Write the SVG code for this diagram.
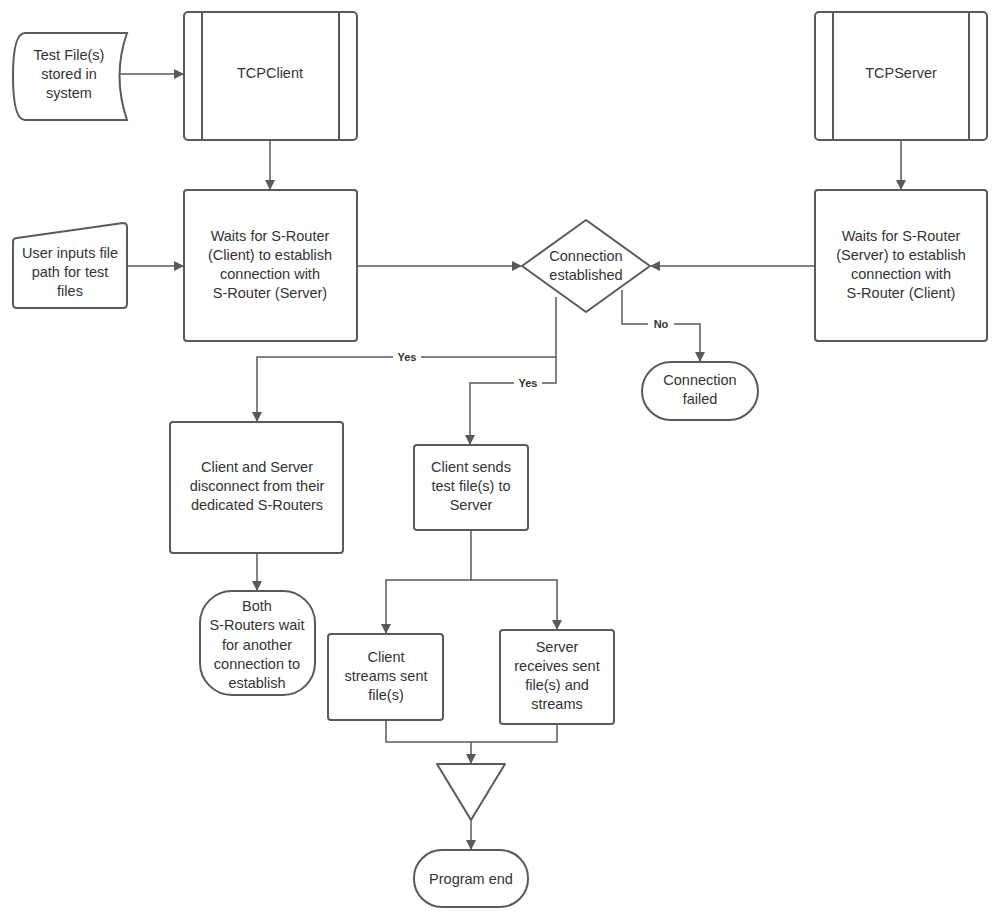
<svg xmlns="http://www.w3.org/2000/svg" width="1001" height="916" viewBox="0 0 1001 916">
<style>
.s{fill:#fff;stroke:#5a5a5a;stroke-width:2}
.c{fill:none;stroke:#5a5a5a;stroke-width:1.5}
text{font-family:"Liberation Sans",Arial,sans-serif;font-size:14.5px;fill:#333;text-anchor:middle}
.l{font-size:11px;font-weight:bold}
</style>
<defs><marker id="a" markerWidth="10" markerHeight="10" refX="9" refY="5" orient="auto" markerUnits="userSpaceOnUse"><path d="M0,0L10,5L0,10z" fill="#5a5a5a"/></marker></defs>
<rect width="1001" height="916" fill="#fff"/>
<g id="connectors">
<path class="c" d="M117,74H183" marker-end="url(#a)"/>
<path class="c" d="M270,140V189" marker-end="url(#a)"/>
<path class="c" d="M127,266H183" marker-end="url(#a)"/>
<path class="c" d="M357,266H521" marker-end="url(#a)"/>
<path class="c" d="M901,140V189" marker-end="url(#a)"/>
<path class="c" d="M815,266H651" marker-end="url(#a)"/>
<path class="c" d="M622,290V324H700V361" marker-end="url(#a)"/>
<path class="c" d="M556,297V357H257V421" marker-end="url(#a)"/>
<path class="c" d="M556,357V383H470V444" marker-end="url(#a)"/>
<path class="c" d="M257,553V590" marker-end="url(#a)"/>
<path class="c" d="M471,530V580H386V633" marker-end="url(#a)"/>
<path class="c" d="M471,580H557V629" marker-end="url(#a)"/>
<path class="c" d="M386,720V742H471M557,724V742H471V763" marker-end="url(#a)"/>
<path class="c" d="M471,820V849" marker-end="url(#a)"/>
<rect x="648" y="318" width="26" height="12" fill="#fff"/><text class="l" x="661" y="328">No</text>
<rect x="393" y="351" width="28" height="12" fill="#fff"/><text class="l" x="407" y="361">Yes</text>
<rect x="514" y="377" width="28" height="12" fill="#fff"/><text class="l" x="528" y="387">Yes</text>
</g>
<g id="testfiles"><path class="s" d="M25,33H127Q112,76 127,120H25Q13,120 13,76Q13,33 25,33z"/>
<text x="69" y="60">Test File(s)</text><text x="69" y="79">stored in</text><text x="69" y="98">system</text></g>
<g id="tcpclient"><rect class="s" x="184" y="12" width="173" height="128" rx="4"/><path class="c" d="M202,12V140M339,12V140" style="stroke-width:2"/>
<text x="270" y="78">TCPClient</text></g>
<g id="userinputs"><path class="s" d="M17,238L123,223Q127,223 127,227V304Q127,308 123,308H17Q13,308 13,304V242Q13,238 17,238z"/>
<text x="70" y="258">User inputs file</text><text x="70" y="277">path for test</text><text x="70" y="296">files</text></g>
<g id="waitsclient"><rect class="s" x="184" y="190" width="173" height="151" rx="3"/>
<text x="270" y="241">Waits for S-Router</text><text x="270" y="260">(Client) to establish</text><text x="270" y="279">connection with</text><text x="270" y="298">S-Router (Server)</text></g>
<g id="decision"><path class="s" d="M586,220L650,266L586,312L522,266z" stroke-linejoin="round"/>
<text x="586" y="261">Connection</text><text x="586" y="280">established</text></g>
<g id="tcpserver"><rect class="s" x="815" y="12" width="172" height="128" rx="4"/><path class="c" d="M833,12V140M969,12V140" style="stroke-width:2"/>
<text x="901" y="78">TCPServer</text></g>
<g id="waitsserver"><rect class="s" x="815" y="190" width="172" height="151" rx="3"/>
<text x="901" y="241">Waits for S-Router</text><text x="901" y="260">(Server) to establish</text><text x="901" y="279">connection with</text><text x="901" y="298">S-Router (Client)</text></g>
<g id="failed"><rect class="s" x="642" y="362" width="116" height="58" rx="29"/>
<text x="700" y="385">Connection</text><text x="700" y="404">failed</text></g>
<g id="disconnect"><rect class="s" x="170" y="422" width="173" height="131" rx="3"/>
<text x="257" y="472">Client and Server</text><text x="257" y="491">disconnect from their</text><text x="257" y="510">dedicated S-Routers</text></g>
<g id="bothwait"><rect class="s" x="200" y="591" width="115" height="104" rx="32"/>
<text x="257" y="611">Both</text><text x="257" y="630">S-Routers wait</text><text x="257" y="650">for another</text><text x="257" y="669">connection to</text><text x="257" y="688">establish</text></g>
<g id="clientsends"><rect class="s" x="414" y="445" width="114" height="85" rx="3"/>
<text x="471" y="472">Client sends</text><text x="471" y="491">test file(s) to</text><text x="471" y="510">Server</text></g>
<g id="clientstreams"><rect class="s" x="328" y="634" width="115" height="86" rx="3"/>
<text x="386" y="662">Client</text><text x="386" y="681">streams sent</text><text x="386" y="700">file(s)</text></g>
<g id="serverreceives"><rect class="s" x="500" y="630" width="114" height="94" rx="3"/>
<text x="557" y="652">Server</text><text x="557" y="671">receives sent</text><text x="557" y="690">file(s) and</text><text x="557" y="709">streams</text></g>
<g id="merge"><path class="s" d="M437,764H505L471,820z" stroke-linejoin="round"/></g>
<g id="end"><rect class="s" x="414" y="850" width="114" height="57" rx="28"/>
<text x="471" y="884">Program end</text></g>
</svg>
